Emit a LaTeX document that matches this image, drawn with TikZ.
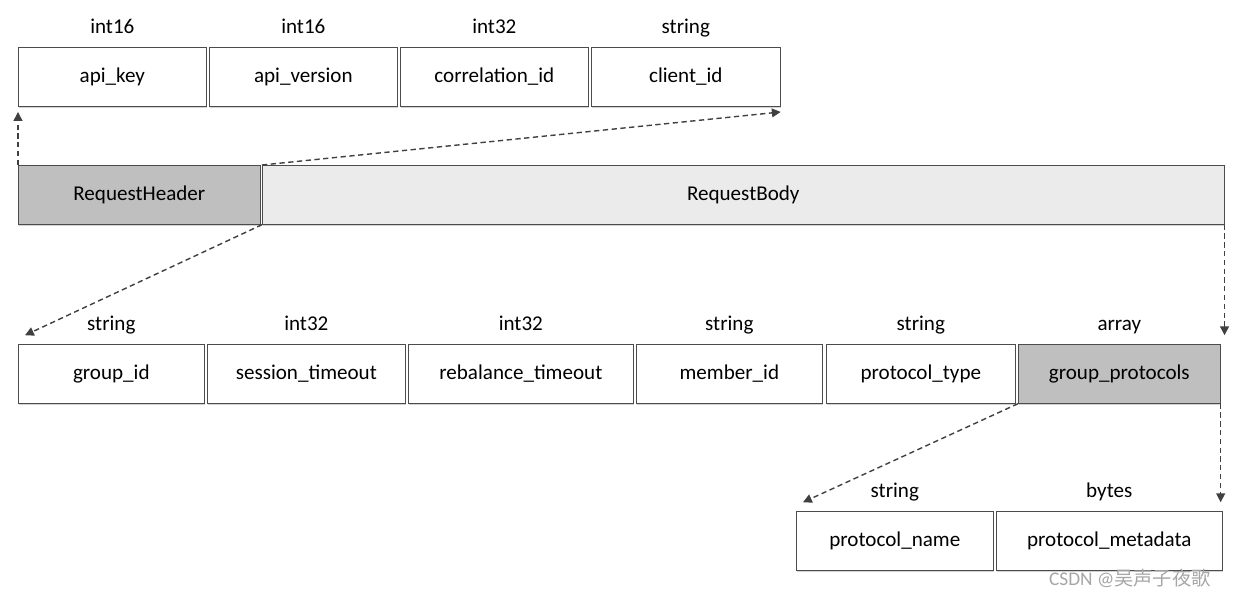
\documentclass[tikz,border=0pt]{standalone}
\usepackage{fontspec}
\setmainfont{Carlito}
\newfontfamily\cjk{Noto Sans CJK SC}
\usetikzlibrary{arrows.meta,shadows}
\begin{document}
\begin{tikzpicture}[x=0.02cm,y=-0.02cm,
    field/.style={draw=black!70, fill=white, minimum height=1.18cm, inner sep=0pt,
      font=\fontsize{12}{14}\selectfont, anchor=north west,
      drop shadow={shadow xshift=0.5pt, shadow yshift=-1pt, opacity=0.35}},
    kind/.style={font=\fontsize{12}{14}\selectfont, text height=1.7ex, text depth=0.5ex},
    link/.style={densely dashed, black!75, thick, -{Triangle[length=5pt,width=5pt]}}]
  \useasboundingbox (0,0) rectangle (1244,596);

  % header fields
  \node[field, minimum width=3.76cm] (apikey) at (18,47) {api\_key};
  \node[field, minimum width=3.76cm] (apiver) at (209,47) {api\_version};
  \node[field, minimum width=3.76cm] (corrid) at (400,47) {correlation\_id};
  \node[field, minimum width=3.78cm] (clientid) at (591,47) {client\_id};
  \node[kind] at (apikey.north) [above=2pt] {int16};
  \node[kind] at (apiver.north) [above=2pt] {int16};
  \node[kind] at (corrid.north) [above=2pt] {int32};
  \node[kind] at (clientid.north) [above=2pt] {string};

  % request
  \node[field, fill=black!25, minimum width=4.84cm] (reqhead) at (18,165) {RequestHeader};
  \node[field, fill=black!8, minimum width=19.24cm] (reqbody) at (262,165) {RequestBody};

  % body fields
  \node[field, minimum width=3.72cm] (groupid) at (18,344) {group\_id};
  \node[field, minimum width=3.96cm] (session) at (207,344) {session\_timeout};
  \node[field, minimum width=4.5cm] (rebal) at (408,344) {rebalance\_timeout};
  \node[field, minimum width=3.72cm] (memberid) at (636,344) {member\_id};
  \node[field, minimum width=3.78cm] (ptype) at (826,344) {protocol\_type};
  \node[field, fill=black!25, minimum width=4.04cm] (gprot) at (1018,344) {group\_protocols};
  \node[kind] at (groupid.north) [above=2pt] {string};
  \node[kind] at (session.north) [above=2pt] {int32};
  \node[kind] at (rebal.north) [above=2pt] {int32};
  \node[kind] at (memberid.north) [above=2pt] {string};
  \node[kind] at (ptype.north) [above=2pt] {string};
  \node[kind] at (gprot.north) [above=2pt] {array};

  % protocol fields
  \node[field, minimum width=3.94cm] (pname) at (796,511) {protocol\_name};
  \node[field, minimum width=4.52cm] (pmeta) at (996,511) {protocol\_metadata};
  \node[kind] at (pname.north) [above=2pt] {string};
  \node[kind] at (pmeta.north) [above=2pt] {bytes};

  % links
  \draw[link] (reqhead.north west) -- ([yshift=-3pt]apikey.south west);
  \draw[link] (reqbody.north west) -- ([yshift=-3pt]clientid.south east);
  \draw[link] (reqbody.south west) -- ([xshift=4pt,yshift=5pt]groupid.north west);
  \draw[link] (reqbody.south east) -- ([yshift=5pt]gprot.north east -| reqbody.south east);
  \draw[link] (gprot.south west) -- ([xshift=4pt,yshift=5pt]pname.north west);
  \draw[link] (gprot.south east) -- ([yshift=5pt]pmeta.north east -| gprot.south east);

  \node[font=\fontsize{11}{13}\selectfont, text=black!35] (mark) at (1130,578) {CSDN @{\cjk 吴声子夜歌}};
\end{tikzpicture}
\end{document}
